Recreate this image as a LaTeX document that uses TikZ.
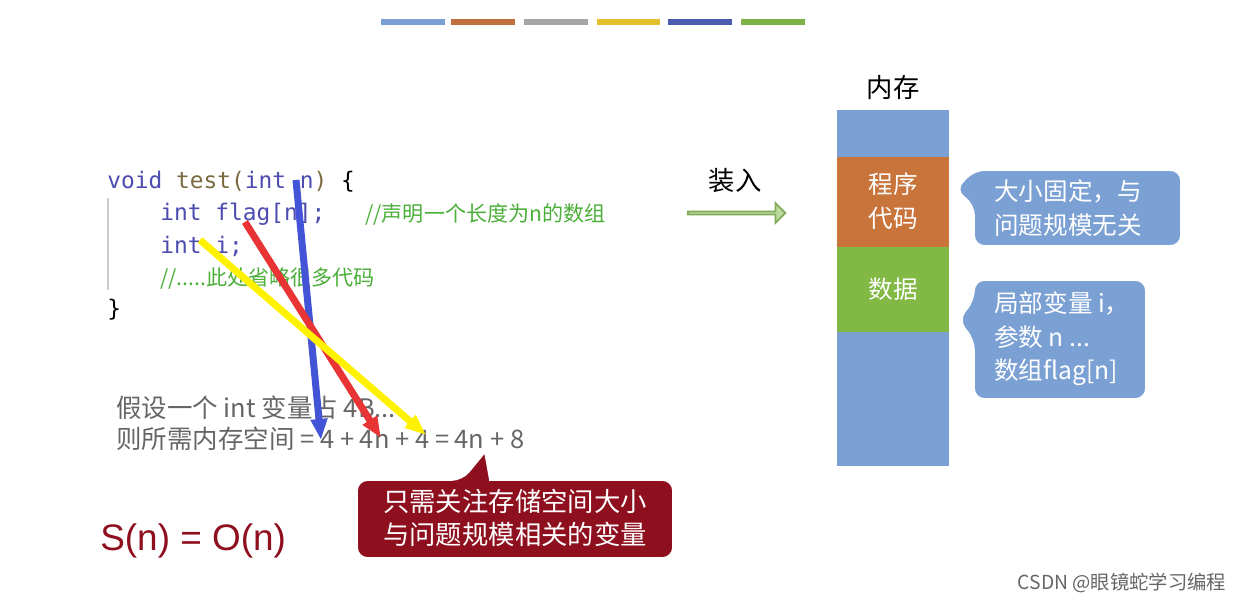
\documentclass[tikz,border=0pt]{standalone}
\usepackage{fontspec}
\setmainfont{Noto Sans CJK SC}
\newfontfamily\cjk{Noto Sans CJK SC}
\newfontfamily\codef{DejaVu Sans Mono}
\newfontfamily\sansf{Liberation Sans}
\usetikzlibrary{arrows.meta,shapes.arrows}
\definecolor{memblue}{HTML}{7BA0D4}
\definecolor{memorange}{HTML}{C8743A}
\definecolor{memgreen}{HTML}{82B844}
\definecolor{darkred}{HTML}{8E0F1E}
\definecolor{kw}{HTML}{4B4BB0}
\definecolor{fn}{HTML}{7A6A40}
\definecolor{cmt}{HTML}{4CAF3A}
\definecolor{b1}{HTML}{7B9FD4}\definecolor{b2}{HTML}{C0703A}\definecolor{b3}{HTML}{A5A5A5}
\definecolor{b4}{HTML}{E2C12C}\definecolor{b5}{HTML}{4A5CB0}\definecolor{b6}{HTML}{7DB249}
\definecolor{arrblue}{RGB}{68,84,214}
\definecolor{arrred}{RGB}{232,52,52}
\definecolor{ldark}{RGB}{130,170,90}
\definecolor{llight}{RGB}{190,220,160}
\tikzset{
  code/.style={anchor=west,font=\codef\fontsize{13}{15}\selectfont,inner sep=0},
  memlab/.style={text=white,font=\cjk\fontsize{14}{19}\selectfont,align=center},
  callout/.style={fill=memblue,draw=white,line width=1pt,rounded corners=6pt},
  ctext/.style={text=white,anchor=west,align=left,font=\cjk\fontsize{14}{19}\selectfont},
  bigarrow/.style={line width=#1,-{Triangle[length=12pt,width=9pt]}}
}
\begin{document}
\begin{tikzpicture}[x=0.02cm,y=-0.02cm]
\useasboundingbox[fill=white] (0,0) rectangle (1243,601);
% top bars
\fill[b1] (381,19) rectangle (445,25);
\fill[b2] (451,19) rectangle (515,25);
\fill[b3] (524,19) rectangle (588,25);
\fill[b4] (597,19) rectangle (660,25);
\fill[b5] (668,19) rectangle (732,25);
\fill[b6] (741,19) rectangle (805,25);
% code
\draw[gray!40,line width=1pt] (108,198) -- (108,290);
\node[code] (l1) at (107,182) {\textcolor{kw}{void} \textcolor{fn}{test(}\textcolor{kw}{int n}\textcolor{fn}{)} \{};
\node[code,text=kw] (l2) at (160,214) {int flag[n];};
\node[code,text=cmt,font=\cjk\fontsize{12}{14}\selectfont] (c2) at (365,214) {//声明一个长度为n的数组};
\node[code,text=kw] (l3) at (160,246) {int i;};
\node[code,text=cmt,font=\cjk\fontsize{12}{14}\selectfont] (l4) at (160,278) {//.....此处省略很多代码};
\node[code] (l5) at (107,310) {\}};
% bottom text
\node[anchor=west,text=black!60,font=\cjk\fontsize{14.5}{17}\selectfont,inner sep=0] (t1) at (116,408) {假设一个 int 变量占 4B...};
\node[anchor=west,text=black!60,font=\cjk\fontsize{14.5}{17}\selectfont,inner sep=0] (t2) at (116,439) {则所需内存空间 = 4 + 4n + 4 = 4n + 8};
% arrows
\coordinate (ys) at (200,240); \coordinate (ye) at (426,435);
\coordinate (rs) at (245,222); \coordinate (re) at (381,438);
\coordinate (bs) at (296,180); \coordinate (be) at (321,440);
\draw[bigarrow=4pt,draw=arrblue,fill=arrblue] (bs) -- (be);
\draw[bigarrow=4pt,draw=arrred,fill=arrred] (rs) -- (re);
\draw[bigarrow=4pt,draw=yellow,fill=yellow] (ys) -- (ye);
% load arrow
\node[font=\cjk\fontsize{15}{18}\selectfont] (load) at (735,181) {装入};
\node[single arrow,draw=ldark,fill=llight,minimum height=1.95cm,minimum width=0.4cm,single arrow head extend=3pt,inner sep=0,line width=1pt] (arr) at (736,213) {};
% memory
\node[font=\cjk\fontsize{15}{18}\selectfont] (memt) at (893,88) {内存};
\fill[memblue] (837,110) rectangle (949,157);
\fill[memorange] (837,157) rectangle (949,247);
\fill[memgreen] (837,247) rectangle (949,332);
\fill[memblue] (837,332) rectangle (949,466);
\node[memlab] (prog) at (893,201) {程序\\代码};
\node[memlab] (data) at (893,289) {数据};
% callouts
\draw[callout] (974,170) -- (955,190) -- (974,205) [rounded corners=6pt]-- (974,246) -- (1181,246) -- (1181,170) -- cycle;
\node[ctext] (co1) at (988,208) {大小固定，与\\问题规模无关};
\draw[callout] (974,300) -- (958,320) -- (974,340) [rounded corners=6pt]-- (974,399) -- (1146,399) -- (1146,280) -- (974,280) -- cycle;
\node[ctext] (co2) at (988,339) {局部变量 i，\\参数 n ...\\数组flag[n]};
% red callout
\draw[fill=darkred,draw=white,line width=1pt,rounded corners=6pt] (357,480) -- (462,480) [sharp corners]-- (485,452) -- (490,480) [rounded corners=6pt] -- (673,480) -- (673,558) -- (357,558) -- cycle;
\node[text=white,align=left,font=\cjk\fontsize{15}{19}\selectfont] (rc) at (515,518) {只需关注存储空间大小\\与问题规模相关的变量};
% S(n)
\node[anchor=west,text=darkred,font=\sansf\fontsize{21}{25}\selectfont,inner sep=0] (sn) at (100,541) {S(n) = O(n)};
% watermark
\node[text=black!60,font=\cjk\fontsize{11}{13}\selectfont] (wm) at (1122,583) {CSDN @眼镜蛇学习编程};
\end{tikzpicture}
\end{document}
